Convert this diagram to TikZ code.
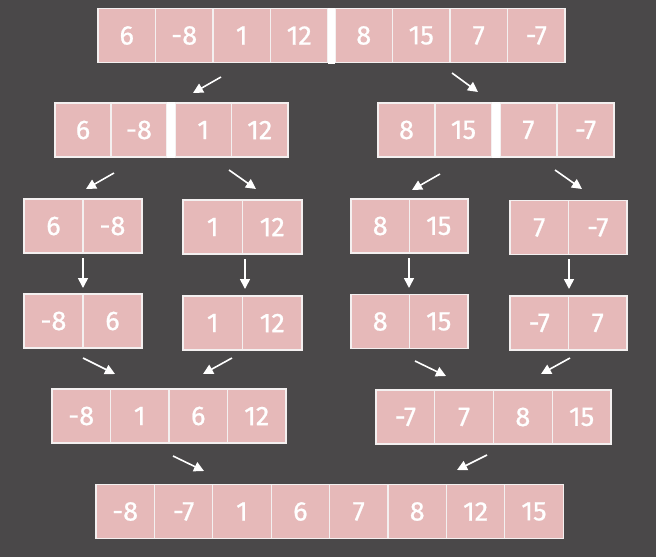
\documentclass[tikz,border=0pt]{standalone}
\usepackage{fontspec}
\setmainfont{Fira Sans}
\newfontfamily\cellfont{Fira Sans}[FakeBold=0.8]
\usetikzlibrary{arrows.meta}
\definecolor{bgc}{HTML}{4A4849}
\definecolor{cellc}{HTML}{E6B9B9}
\definecolor{edgec}{HTML}{F4F0F0}
\tikzset{
  cell/.style={draw=edgec, line width=1.3pt, fill=cellc, text=white, inner sep=0pt,
    minimum height=54pt, font=\cellfont\fontsize{27}{30}\selectfont},
  sepbar/.style={fill=white, draw=white, line width=0.6pt},
  arr/.style={draw=white, line width=1.6pt, -{Triangle[length=10pt,width=10pt]}}
}
\newcommand\cellrow[5]{%
  \foreach \v [count=\i] in {#5} {%
    \node[cell, minimum width=#4pt] (#1-\i) at ({#2+(\i-0.5)*#4}, #3) {\v};}}
\begin{document}
\begin{tikzpicture}[x=1pt,y=-1pt]
\fill[bgc] (0,0) rectangle (656,557);
\useasboundingbox (0,0) rectangle (656,557);
% row 1
\cellrow{ra}{98}{35.5}{57.5}{6,-8,1,12}
\cellrow{rb}{335}{35.5}{57.5}{8,15,7,-7}
\fill[sepbar] (ra-4.north east) rectangle (rb-1.south west);
% row 2
\cellrow{sa}{55}{130}{56}{6,-8}
\cellrow{sb}{175}{130}{56.5}{1,12}
\fill[sepbar] (sa-2.north east) rectangle (sb-1.south west);
\cellrow{sc}{378}{130}{57}{8,15}
\cellrow{sd}{500}{130}{57}{7,-7}
\fill[sepbar] (sc-2.north east) rectangle (sd-1.south west);
% row 3
\cellrow{ta}{24}{226}{59}{6,-8}
\cellrow{tb}{183}{227}{59.5}{1,12}
\cellrow{tc}{351}{226}{58.5}{8,15}
\cellrow{td}{510}{227.5}{58.5}{7,-7}
% row 4
\cellrow{ua}{24}{321}{59}{-8,6}
\cellrow{ub}{183}{323}{59.5}{1,12}
\cellrow{uc}{351}{321.5}{58.5}{8,15}
\cellrow{ud}{510}{323}{58.5}{-7,7}
% row 5
\cellrow{va}{52}{416}{58.5}{-8,1,6,12}
\cellrow{vb}{376}{417}{58.75}{-7,7,8,15}
% row 6
\cellrow{wa}{96}{511.5}{58.4}{-8,-7,1,6,7,8,12,15}
% arrow end points
\coordinate (p1s) at (221,77);  \coordinate (p1e) at (193,93);
\coordinate (p2s) at (452,73);  \coordinate (p2e) at (478,92);
\coordinate (p3s) at (114,173); \coordinate (p3e) at (86,189);
\coordinate (p4s) at (229,170); \coordinate (p4e) at (256,189);
\coordinate (p5s) at (440,174); \coordinate (p5e) at (412,190);
\coordinate (p6s) at (555,170); \coordinate (p6e) at (582,189);
\coordinate (d1s) at (83,258);  \coordinate (d1e) at (83,288);
\coordinate (d2s) at (245,259); \coordinate (d2e) at (245,289);
\coordinate (d3s) at (409,258); \coordinate (d3e) at (409,288);
\coordinate (d4s) at (569,259); \coordinate (d4e) at (569,289);
\coordinate (m1s) at (83,358);  \coordinate (m1e) at (115,374);
\coordinate (m2s) at (232,358); \coordinate (m2e) at (203,374);
\coordinate (m3s) at (415,361); \coordinate (m3e) at (446,376);
\coordinate (m4s) at (570,358); \coordinate (m4e) at (541,374);
\coordinate (f1s) at (173,456); \coordinate (f1e) at (204,471);
\coordinate (f2s) at (487,455); \coordinate (f2e) at (457,470);
\foreach \a in {p1,p2,p3,p4,p5,p6,d1,d2,d3,d4,m1,m2,m3,m4,f1,f2}
  \draw[arr] (\a s) -- (\a e);
\end{tikzpicture}
\end{document}
